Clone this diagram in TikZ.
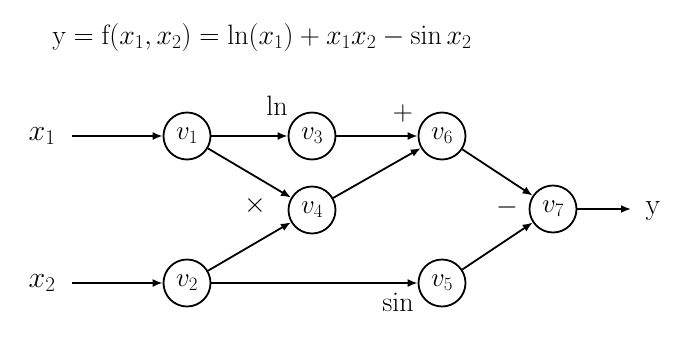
\RequirePackage{fix-cm}
\documentclass[tikz,border=0pt]{standalone}
\usetikzlibrary{arrows.meta}
\begin{document}
\begin{tikzpicture}[x=1pt,y=-1pt,
  vnode/.style={circle,draw,line width=1.8pt,minimum size=47pt,inner sep=0pt,font=\fontsize{27}{30}\selectfont},
  lbl/.style={inner sep=0pt,font=\fontsize{30}{34}\selectfont},
  oplbl/.style={inner sep=0pt,font=\fontsize{28}{32}\selectfont},
  edge/.style={line width=1.8pt,-{Latex[length=10pt,width=8pt]}}]
\useasboundingbox (0,0) rectangle (683,346);
\node[inner sep=0pt,font=\fontsize{28}{32}\selectfont] (title) at (262,37)
  {$\mathrm{y}=\mathrm{f}(x_1,x_2)=\ln(x_1)+x_1x_2-\sin x_2$};
\node[vnode] (v1) at (187,136) {$v_1$};
\node[vnode] (v2) at (187,283) {$v_2$};
\node[vnode] (v3) at (312,136) {$v_3$};
\node[vnode] (v4) at (312,210) {$v_4$};
\node[vnode] (v5) at (442,283) {$v_5$};
\node[vnode] (v6) at (442,136) {$v_6$};
\node[vnode] (v7) at (553,209) {$v_7$};
\node[lbl] (x1) at (42,136) {$x_1$};
\node[lbl] (x2) at (42,283) {$x_2$};
\node[lbl,anchor=base] (y) at (653,214) {$\mathrm{y}$};
\coordinate (yend) at (631,209);
\node[oplbl] (ln) at (277,106) {$\ln$};
\node[oplbl] (plus) at (403,113) {$+$};
\node[oplbl] (times) at (255,205) {$\times$};
\node[oplbl] (minus) at (507,207) {$-$};
\node[oplbl] (sin) at (398,302) {$\sin$};
\draw[edge,shorten <=16pt] (x1) -- (v1);
\draw[edge,shorten <=16pt] (x2) -- (v2);
\draw[edge] (v1) -- (v3);
\draw[edge] (v1) -- (v4);
\draw[edge] (v2) -- (v4);
\draw[edge] (v2) -- (v5);
\draw[edge] (v3) -- (v6);
\draw[edge] (v4) -- (v6);
\draw[edge] (v6) -- (v7);
\draw[edge] (v5) -- (v7);
\draw[edge] (v7) -- (yend);
\end{tikzpicture}
\end{document}
